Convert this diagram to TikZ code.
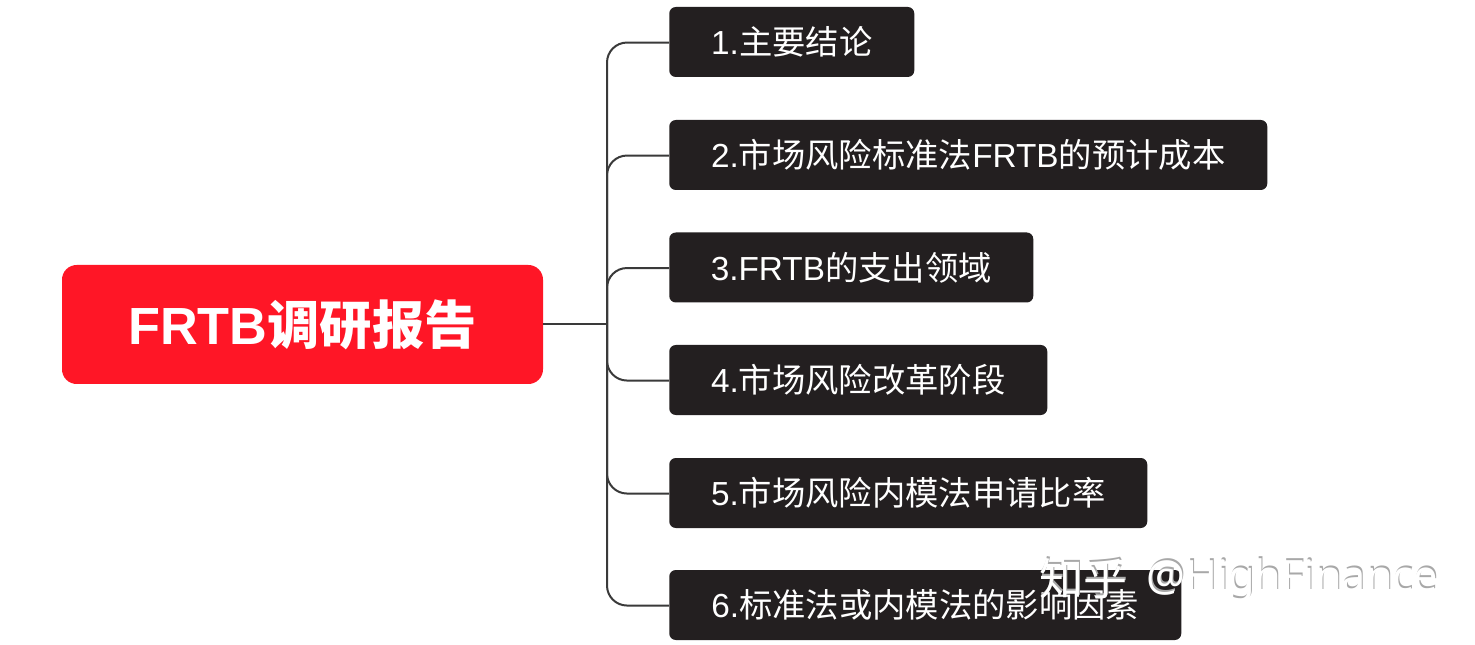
\documentclass[tikz,border=0pt]{standalone}
\usepackage{fontspec}
\setmainfont{Liberation Sans}
\newfontfamily\cjkf{Noto Sans CJK SC}
\newfontfamily\wmf{Noto Sans}
\definecolor{boxdark}{HTML}{231F20}
\definecolor{rootred}{HTML}{FF1626}
\definecolor{wline}{HTML}{3A3A3A}
\definecolor{wmgray}{HTML}{A8A8A8}
\tikzset{
  x=0.75pt,y=-0.75pt,
  branch/.style={draw=none,fill=boxdark,rounded corners=6.5pt*0.75,text=white,inner sep=0pt,
    minimum height=52.5pt,font=\fontsize{25pt}{30pt}\selectfont,anchor=west},
  rootbox/.style={fill=rootred,rounded corners=11pt,text=white,inner sep=0pt,
    minimum width=360.75pt,minimum height=89.25pt,font=\fontsize{39.2pt}{46pt}\selectfont\bfseries},
  link/.style={draw=wline,line width=1.5pt,rounded corners=15pt},
  stem/.style={draw=wline,line width=1.5pt},
  wmA/.style={inner sep=0pt,font=\fontsize{33pt}{40pt}\selectfont\cjkf},
  wmB/.style={inner sep=0pt,font=\fontsize{32.4pt}{40pt}\selectfont\wmf},
}
\begin{document}
\begin{tikzpicture}
\useasboundingbox (0,0) rectangle (1475,645);
\fill[white] (0,0) rectangle (1475,645);
\node[rootbox] (root) at (302.5,324.5) {FRTB{\cjkf\bfseries 调研报告}};
\node[branch,minimum width=183.75pt] (b1) at (669,42) {1.{\cjkf 主要结论}};
\node[branch,minimum width=448.5pt] (b2) at (669,155) {2.{\cjkf 市场风险标准法}FRTB{\cjkf 的预计成本}};
\node[branch,minimum width=273pt] (b3) at (669,267.5) {3.FRTB{\cjkf 的支出领域}};
\node[branch,minimum width=283.5pt] (b4) at (669,380) {4.{\cjkf 市场风险改革阶段}};
\node[branch,minimum width=358.5pt] (b5) at (669,493) {5.{\cjkf 市场风险内模法申请比率}};
\node[branch,minimum width=384pt] (b6) at (669,605) {6.{\cjkf 标准法或内模法的影响因素}};
\coordinate (trunk) at (607,324.5);
\draw[stem] (root.east) -- (trunk);
\foreach \n in {b1,b2,b3,b4,b5,b6}{
  \draw[link] (trunk) |- ([yshift=-0.4pt]\n.west);
}
\node[wmA,text=wmgray] (wm1s) at (1084.5,577) {知乎};
\node[wmA,text=white] (wm1) at (1083,579) {知乎};
\node[wmB,text=wmgray,anchor=west] (wm2s) at (1147,578) {@HighFinance};
\node[wmB,text=white,anchor=west] (wm2) at (1146,580) {@HighFinance};
\end{tikzpicture}
\end{document}
